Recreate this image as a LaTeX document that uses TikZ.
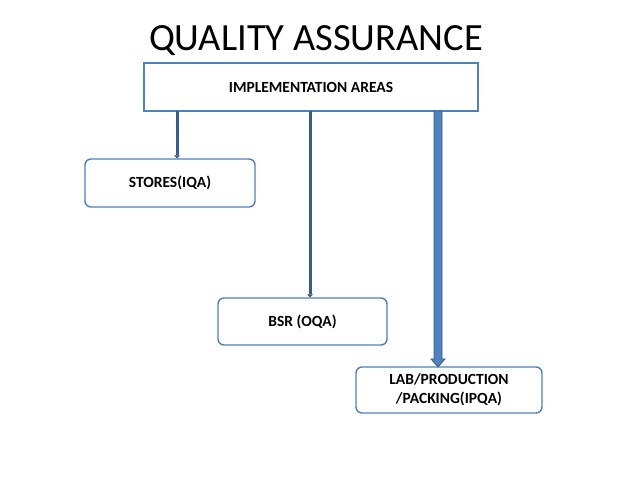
\documentclass[tikz,border=0pt]{standalone}
\usepackage{fontspec}
\setmainfont{Carlito}
\usetikzlibrary{arrows.meta}
\definecolor{bl}{HTML}{4F81BD}
\definecolor{dbl}{HTML}{385D8A}
\begin{document}
\begin{tikzpicture}[x=1pt,y=-1pt,
  box/.style={draw=bl,line width=1.4pt,fill=white,rounded corners=6pt,font=\bfseries\fontsize{15.5}{19}\selectfont,align=center,inner sep=0pt},
  ln/.style={draw=dbl,line width=3pt}]
\useasboundingbox (0,0) rectangle (638,478);
\node[font=\fontsize{38.5}{42}\selectfont] (t) at (316,41) {QUALITY ASSURANCE};
\node[draw=bl,line width=1.4pt,fill=white,font=\bfseries\fontsize{15.5}{19}\selectfont,minimum width=334pt,minimum height=48pt,inner sep=0pt] (top) at (311,87) {IMPLEMENTATION AREAS};
\node[box,minimum width=170pt,minimum height=48pt] (s) at (170,183) {STORES(IQA)};
\node[box,minimum width=169pt,minimum height=47pt] (b) at (302.5,321.5) {BSR (OQA)};
\node[box,minimum width=186pt,minimum height=46pt] (l) at (449,390) {LAB/PRODUCTION\\/PACKING(IPQA)};
\draw[ln,-{Triangle[length=3pt,width=6pt]}] (177,111) -- (s.north -| 177,0);
\draw[ln,-{Triangle[length=3pt,width=6pt]}] (310,111) -- (b.north -| 310,0);
\draw[draw=dbl,fill=bl,line width=0.8pt] (434,111) -- (442,111) -- (442,359) -- (445,359) -- (438,367) -- (431,359) -- (434,359) -- cycle;
\end{tikzpicture}
\end{document}
